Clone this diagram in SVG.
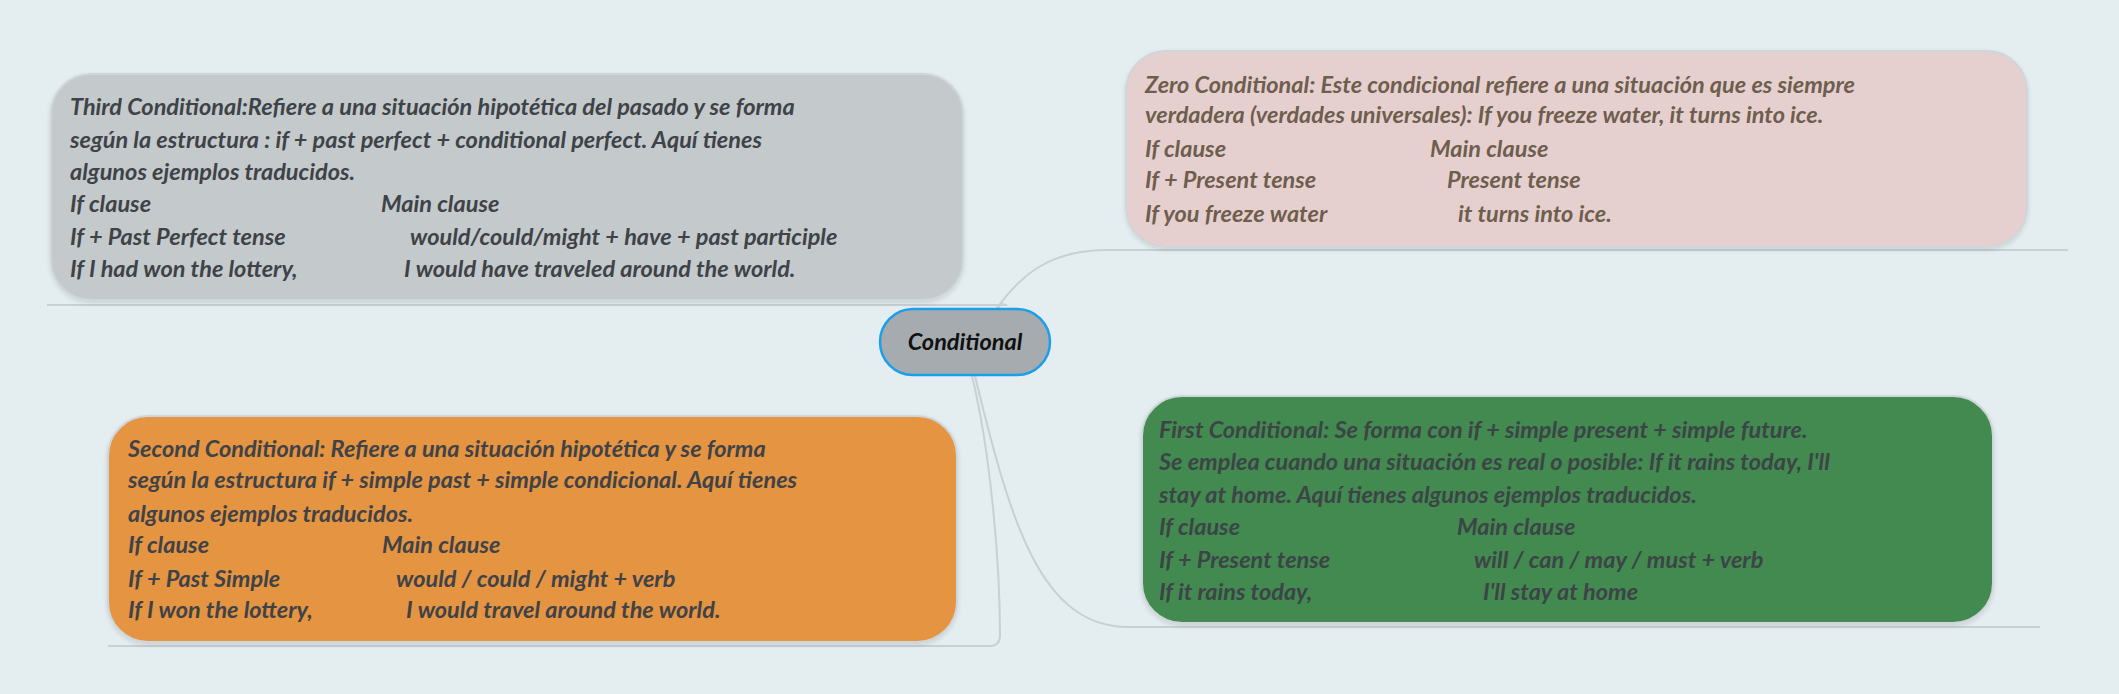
<svg xmlns="http://www.w3.org/2000/svg" width="2119" height="694" viewBox="0 0 2119 694">
<style>
.t{font-family:Lato,"Open Sans","DejaVu Sans",sans-serif;font-style:italic;font-weight:700;font-size:23.5px;white-space:pre}
.c{fill:none;stroke:#c9d0d3;stroke-width:2}
.b{stroke:#cfd6da;stroke-width:2}
</style>
<defs><filter id="sh" x="-5%" y="-5%" width="110%" height="115%"><feDropShadow dx="0" dy="2" stdDeviation="2" flood-color="#000" flood-opacity="0.12"/></filter></defs>
<rect width="2119" height="694" fill="#e4edf0"/>
<g id="connectors">
<path class="c" d="M995 311 C1005 300 1000 305 1007 305 L47 305"/>
<path class="c" d="M995 311 C1020 275 1050 250 1107 250 L2068 250"/>
<path class="c" d="M972 376 C990 450 1000 560 1000 635 Q1000 646 990 646 L108 646"/>
<path class="c" d="M975 376 C1010 520 1040 627 1128 627 L2040 627"/>
</g>
<g id="third">
<rect x="51" y="74" width="912" height="226" rx="40" fill="#c4c9cc" class="b" filter="url(#sh)"/>
<g class="t" fill="#3e4347">
<text x="70" y="115">Third Conditional:Refiere a una situación hipotética del pasado y se forma</text>
<text x="70" y="148">según la estructura : if + past perfect + conditional perfect. Aquí tienes</text>
<text x="70" y="180">algunos ejemplos traducidos.</text>
<text x="70" y="212">If clause</text><text x="381" y="212">Main clause</text>
<text x="70" y="245">If + Past Perfect tense</text><text x="410" y="245">would/could/might + have + past participle</text>
<text x="70" y="277">If I had won the lottery,</text><text x="404" y="277">I would have traveled around the world.</text>
</g>
</g>
<g id="zero">
<rect x="1126" y="51" width="901" height="196" rx="40" fill="#e6d0cf" class="b" filter="url(#sh)"/>
<g class="t" fill="#6e5e4e">
<text x="1145" y="93">Zero Conditional: Este condicional refiere a una situación que es siempre</text>
<text x="1145" y="123">verdadera (verdades universales): If you freeze water, it turns into ice.</text>
<text x="1145" y="157">If clause</text><text x="1430" y="157">Main clause</text>
<text x="1145" y="188">If + Present tense</text><text x="1447" y="188">Present tense</text>
<text x="1145" y="222">If you freeze water</text><text x="1458" y="222">it turns into ice.</text>
</g>
</g>
<g id="center">
<rect x="880" y="309" width="170" height="66" rx="33" fill="#a6abaf" stroke="#1a9fe8" stroke-width="2.5"/>
<text class="t" x="965" y="350" text-anchor="middle" fill="#111" font-size="25">Conditional</text>
</g>
<g id="second">
<rect x="108" y="416" width="849" height="226" rx="40" fill="#e59443" class="b" filter="url(#sh)"/>
<g class="t" fill="#3f4347">
<text x="128" y="457">Second Conditional: Refiere a una situación hipotética y se forma</text>
<text x="128" y="488">según la estructura if + simple past + simple condicional. Aquí tienes</text>
<text x="128" y="522">algunos ejemplos traducidos.</text>
<text x="128" y="553">If clause</text><text x="382" y="553">Main clause</text>
<text x="128" y="587">If + Past Simple</text><text x="396" y="587">would / could / might + verb</text>
<text x="128" y="618">If I won the lottery,</text><text x="406" y="618">I would travel around the world.</text>
</g>
</g>
<g id="first">
<rect x="1142" y="396" width="851" height="227" rx="40" fill="#438a50" class="b" filter="url(#sh)"/>
<g class="t" fill="#3d4447">
<text x="1159" y="438">First  Conditional:  Se forma con if + simple present + simple future.</text>
<text x="1159" y="470"> Se emplea cuando una situación es real o posible: If it rains today, I'll</text>
<text x="1159" y="503">stay at home. Aquí tienes algunos ejemplos traducidos.</text>
<text x="1159" y="535"> If clause</text><text x="1457" y="535">Main clause</text>
<text x="1159" y="568">If + Present tense</text><text x="1474" y="568">will / can / may / must + verb</text>
<text x="1159" y="600">If it rains today,</text><text x="1483" y="600">I'll stay at home</text>
</g>
</g>
</svg>
